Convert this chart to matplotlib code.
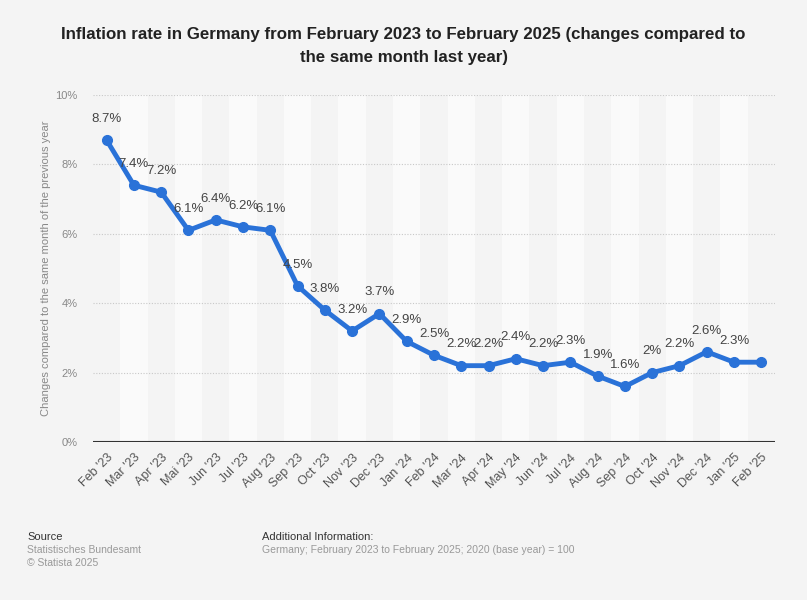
import matplotlib
matplotlib.use("Agg")
import matplotlib.pyplot as plt
import numpy as np

months = ["Feb '23", "Mar '23", "Apr '23", "Mai '23", "Jun '23", "Jul '23", "Aug '23",
          "Sep '23", "Oct '23", "Nov '23", "Dec '23", "Jan '24", "Feb '24", "Mar '24",
          "Apr '24", "May '24", "Jun '24", "Jul '24", "Aug '24", "Sep '24", "Oct '24",
          "Nov '24", "Dec '24", "Jan '25", "Feb '25"]
rates = [8.7, 7.4, 7.2, 6.1, 6.4, 6.2, 6.1, 4.5, 3.8, 3.2, 3.7, 2.9, 2.5, 2.2,
         2.2, 2.4, 2.2, 2.3, 1.9, 1.6, 2.0, 2.2, 2.6, 2.3, 2.3]
labels = ["8.7%", "7.4%", "7.2%", "6.1%", "6.4%", "6.2%", "6.1%", "4.5%", "3.8%",
          "3.2%", "3.7%", "2.9%", "2.5%", "2.2%", "2.2%", "2.4%", "2.2%", "2.3%",
          "1.9%", "1.6%", "2%", "2.2%", "2.6%", "2.3%", ""]
yticks = [0, 2, 4, 6, 8, 10]

plt.rcParams['font.family'] = ['Liberation Sans', 'DejaVu Sans']
bg = '#f4f4f4'
fig = plt.figure(figsize=(8.07, 6.0), dpi=100, facecolor=bg)
ax = fig.add_axes([0.1152, 0.2633, 0.8451, 0.5784])
ax.set_facecolor('#f4f4f4')

x = np.arange(len(months))
# alternating column bands
for i in x:
    if i % 2 == 1:
        ax.axvspan(i - 0.5, i + 0.5, color='#fafafa', zorder=0, lw=0)

for t in yticks[1:]:
    ax.axhline(t, color='#c8c8c8', lw=0.8, ls=(0, (1, 1.5)), zorder=1)
ax.axhline(0, color='#333333', lw=1.5, zorder=2)

ax.plot(x, rates, color='#2a72d8', lw=3.5, marker='o', markersize=7, zorder=3,
        solid_joinstyle='round')
for xi, yi, lab in zip(x, rates, labels):
    if lab:
        ax.annotate(lab, (xi, yi), xytext=(0, 11), textcoords='offset points',
                    ha='center', va='bottom', fontsize=9.5, color='#444444', zorder=4)

ax.set_xlim(-0.5, len(months) - 0.5)
ax.set_ylim(0, 10)
ax.set_yticks(yticks)
ax.set_yticklabels([f"{t}%" for t in yticks], fontsize=8, color='#888888')
ax.set_xticks(x)
ax.set_xticklabels(months, rotation=45, ha='right', rotation_mode='anchor',
                   fontsize=9, color='#555555')
ax.tick_params(axis='y', length=0, pad=11)
ax.tick_params(axis='x', length=0, pad=7)
for s in ax.spines.values():
    s.set_visible(False)
ax.set_ylabel("Changes compared to the same month of the previous year",
              fontsize=8, color='#888888')
ax.yaxis.set_label_coords(-42 / 682, 0.5)

fig.text(0.5, 0.955, "Inflation rate in Germany from February 2023 to February 2025 (changes compared to\nthe same month last year)",
         ha='center', va='top', fontsize=12.2, fontweight='bold', color='#222222',
         linespacing=1.65)

fig.text(27 / 807, 1 - 537 / 600, "Source", fontsize=8, color='#333333', va='center')
fig.text(27 / 807, 1 - 550 / 600, "Statistisches Bundesamt", fontsize=7.5, color='#999999', va='center')
fig.text(27 / 807, 1 - 563 / 600, "© Statista 2025", fontsize=7.5, color='#999999', va='center')
fig.text(262 / 807, 1 - 537 / 600, "Additional Information:", fontsize=8, color='#333333', va='center')
fig.text(262 / 807, 1 - 550 / 600, "Germany; February 2023 to February 2025; 2020 (base year) = 100",
         fontsize=7.5, color='#999999', va='center')

fig.savefig("out.png", dpi=100, facecolor=bg)
